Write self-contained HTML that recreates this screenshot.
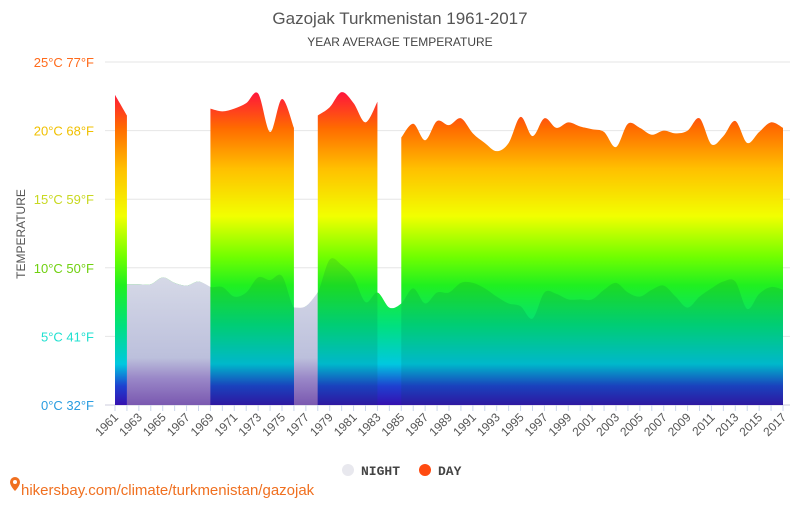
<!DOCTYPE html>
<html><head><meta charset="utf-8"><style>
body{margin:0;background:#fff;font-family:"Liberation Sans",sans-serif}
svg text{font-family:"Liberation Sans",sans-serif}
</style></head><body>
<svg id="c" width="800" height="500" viewBox="0 0 800 500">
<defs>
<linearGradient id="rain" gradientUnits="userSpaceOnUse" x1="0" y1="405" x2="0" y2="90">
<stop offset="0" stop-color="#3510b0"/>
<stop offset="0.06" stop-color="#1e40d0"/>
<stop offset="0.13" stop-color="#00c8e0"/>
<stop offset="0.25" stop-color="#00e080"/>
<stop offset="0.38" stop-color="#20f020"/>
<stop offset="0.47" stop-color="#70ff00"/>
<stop offset="0.6" stop-color="#f2ff00"/>
<stop offset="0.75" stop-color="#ffc000"/>
<stop offset="0.88" stop-color="#ff6a00"/>
<stop offset="1" stop-color="#ff1040"/>
</linearGradient>
<linearGradient id="lav" gradientUnits="userSpaceOnUse" x1="0" y1="405" x2="0" y2="270">
<stop offset="0" stop-color="#7a58b0"/>
<stop offset="0.2" stop-color="#9a88c8"/>
<stop offset="0.35" stop-color="#bcc0dc"/>
<stop offset="1" stop-color="#d8dbe8"/>
</linearGradient>
<clipPath id="dayclip"><path id="dayclipPath"/></clipPath>
</defs>
<text x="400" y="24" text-anchor="middle" font-size="17" fill="#555">Gazojak Turkmenistan 1961-2017</text>
<text x="400" y="46" text-anchor="middle" font-size="12" fill="#444">YEAR AVERAGE TEMPERATURE</text>
<text transform="translate(25,234) rotate(-90)" text-anchor="middle" font-size="12" fill="#555">TEMPERATURE</text>
<g id="grid"></g><g id="ylab"></g>
<g id="marks"></g>
<g id="xaxis"></g>
<g>
<g><circle cx="348" cy="470" r="6" fill="#e8e8ee"/><text x="361" y="475" font-size="13" font-weight="bold" fill="#444" style="font-family:'Liberation Mono',monospace">NIGHT</text></g>
<g><circle cx="425" cy="470" r="6" fill="#ff4a10"/><text x="438" y="475" font-size="13" font-weight="bold" fill="#444" style="font-family:'Liberation Mono',monospace">DAY</text></g>
</g>
<g><path d="M10 482 a5 5 0 0 1 10 0 c0 4 -5 9 -5 9 c0 0 -5 -5 -5 -9z" fill="#f07020"/><circle cx="15" cy="482" r="2" fill="#fff"/>
<text x="21" y="495" font-size="15" fill="#f07020">hikersbay.com/climate/turkmenistan/gazojak</text></g>
</svg>
<script>
const years=[];for(let y=1961;y<=2017;y++)years.push(y);
const dayTemps=[22.6,21.1,null,null,null,null,null,null,21.6,21.4,21.6,22.0,22.7,19.9,22.3,20.2,null,21.1,21.7,22.8,22.0,20.6,22.1,null,19.5,20.5,19.3,20.7,20.4,20.9,19.8,19.1,18.5,19.1,21.0,19.6,20.9,20.2,20.6,20.3,20.1,19.9,18.8,20.5,20.2,19.7,20.0,19.8,20.0,20.9,19.0,19.6,20.7,19.1,19.9,20.6,20.2];
const nightTemps=[null,8.8,8.8,8.8,9.3,8.9,8.7,9.0,8.6,8.6,7.9,8.2,9.3,9.1,9.4,7.1,7.2,8.2,10.6,10.2,9.3,7.5,8.2,7.1,7.4,8.5,7.4,8.2,8.2,8.9,8.9,8.5,7.9,7.4,7.2,6.3,8.2,8.1,7.7,7.7,7.7,8.4,8.9,8.2,7.9,8.4,8.7,7.9,7.1,7.9,8.5,9.0,9.0,7.0,8.1,8.6,8.4];
const nightOnlyYears=[1963,1964,1965,1966,1967,1968,1977];
const yTicks=[0,5,10,15,20,25];
const yLabels=["0°C 32°F","5°C 41°F","10°C 50°F","15°C 59°F","20°C 68°F","25°C 77°F"];
const yColors=["#2a9de0","#20e0d0","#70d010","#c8d820","#f0c000","#ff6a1a"];
const NS="http://www.w3.org/2000/svg";
const X=y=>115+(y-1961)*(783-115)/56;
const Y=v=>405-v*(405-62)/25;
function mk(t,a,p){const e=document.createElementNS(NS,t);for(const k in a)e.setAttribute(k,a[k]);p.appendChild(e);return e;}
const grid=document.getElementById('grid'),ylab=document.getElementById('ylab');
yTicks.forEach((t,i)=>{
 const l=mk('line',{x1:105,x2:790,y1:Y(t),y2:Y(t),stroke:t===0?'#ccd':'#e6e6e6'},grid);
 
 
 const tx=mk('text',{x:94,y:Y(t)+5,'text-anchor':'end','font-size':13,fill:yColors[i]},ylab);
 tx.textContent=yLabels[i];
 
 
});
function segments(arr){const s=[];let cur=[];arr.forEach((v,i)=>{if(v==null){if(cur.length)s.push(cur);cur=[];}else cur.push([X(years[i]),Y(v)]);});if(cur.length)s.push(cur);return s;}
function areaPath(seg){
 let d=`M${seg[0][0]},405L${seg[0][0]},${seg[0][1]}`;
 for(let i=0;i<seg.length-1;i++){
  const p0=seg[i-1]||seg[i],p1=seg[i],p2=seg[i+1],p3=seg[i+2]||p2;
  const c1=[p1[0]+(p2[0]-p0[0])/6,p1[1]+(p2[1]-p0[1])/6],c2=[p2[0]-(p3[0]-p1[0])/6,p2[1]-(p3[1]-p1[1])/6];
  d+=`C${c1[0]},${c1[1]} ${c2[0]},${c2[1]} ${p2[0]},${p2[1]}`;
 }
 return d+`L${seg[seg.length-1][0]},405Z`;
}
const isLav=y=>nightOnlyYears.includes(y);
const nightLav=nightTemps.map((v,i)=>{const y=years[i];return (isLav(y)||isLav(y-1)||isLav(y+1))?v:null;});
const marks=document.getElementById('marks');
const nd=segments(nightTemps).map(areaPath).join('');
const nl=segments(nightLav).map(areaPath).join('');
const dd=segments(dayTemps).map(areaPath).join('');
const n0=mk('path',{d:nd,fill:'url(#rain)'},marks);


const n1=mk('path',{d:nl,fill:'url(#lav)'},marks);


const da=mk('path',{d:dd,fill:'url(#rain)'},marks);


document.getElementById('dayclipPath').setAttribute('d',dd);
const n2=mk('path',{d:nd,fill:'#004a40','fill-opacity':0.13,'clip-path':'url(#dayclip)'},marks);


const xa=document.getElementById('xaxis');
years.forEach(y=>{
 const t=mk('line',{x1:X(y),x2:X(y),y1:405,y2:411,stroke:'#ccd6eb'},xa);
 
 
 if((y-1961)%2===0){
  const tx=mk('text',{transform:`translate(${X(y)+4},${418}) rotate(-45)`,'text-anchor':'end','font-size':12,fill:'#555'},xa);
  tx.textContent=y;
  
  
 }
});
</script>
</body></html>
